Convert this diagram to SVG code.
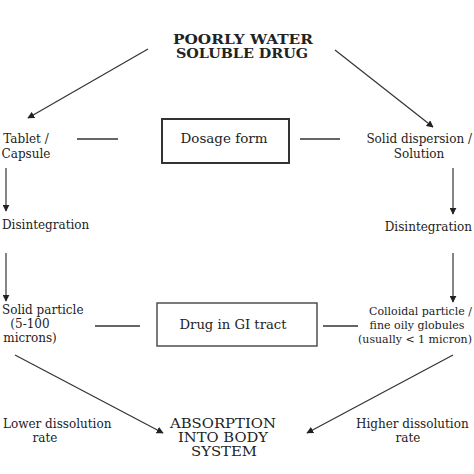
<svg xmlns="http://www.w3.org/2000/svg" width="474" height="474" viewBox="0 0 474 474">
<defs>
<marker id="ah" viewBox="0 0 10 10" refX="9" refY="5" markerWidth="7" markerHeight="7" markerUnits="userSpaceOnUse" orient="auto">
<path d="M0,0 L10,5 L0,10 z" fill="#222"/>
</marker>
<style>
text{font-family:"DejaVu Serif","Liberation Serif",serif;font-size:12px;fill:#222}
.t{font-weight:bold;font-size:13px}
.s{font-size:11px}
.m{text-anchor:middle}
.e{text-anchor:end}
.ln{stroke:#333;stroke-width:1.3;fill:none}
.ar{stroke:#333;stroke-width:1.2;fill:none;marker-end:url(#ah)}
.bx{fill:#fff;stroke:#333;stroke-width:2}
</style>
</defs>
<rect width="474" height="474" fill="#fff"/>
<g id="drug"><text class="t m" x="243" y="44" textLength="140" lengthAdjust="spacingAndGlyphs">POORLY WATER</text><text class="t m" x="242" y="58" textLength="132" lengthAdjust="spacingAndGlyphs">SOLUBLE DRUG</text></g>
<g id="tablet"><text class="m" x="26" y="143">Tablet /</text><text class="m" x="26" y="158">Capsule</text></g>
<g id="dosage"><rect class="bx" x="162" y="119" width="127" height="44"/><text class="m" x="224" y="143" textLength="87" lengthAdjust="spacingAndGlyphs">Dosage form</text></g>
<g id="soliddisp"><text class="e" x="472" y="143">Solid dispersion /</text><text class="m" x="419" y="158">Solution</text></g>
<g id="disintL"><text x="2" y="229">Disintegration</text></g>
<g id="disintR"><text class="e" x="472" y="231">Disintegration</text></g>
<g id="solidpart"><text x="2" y="314">Solid particle</text><text class="m" x="30" y="328">(5-100</text><text class="m" x="30" y="342">microns)</text></g>
<g id="gi"><rect x="157" y="303" width="160" height="43" fill="#fff" stroke="#444" stroke-width="1.4"/><text class="m" x="233" y="329" textLength="107" lengthAdjust="spacingAndGlyphs">Drug in GI tract</text></g>
<g id="colloid"><text class="s e" x="472" y="315">Colloidal particle /</text><text class="s m" x="417" y="329">fine oily globules</text><text class="s e" x="472" y="343">(usually &lt; 1 micron)</text></g>
<g id="lower"><text x="3" y="428">Lower dissolution</text><text class="m" x="45" y="442">rate</text></g>
<g id="absorb"><text class="m" x="223" y="428" textLength="106" lengthAdjust="spacingAndGlyphs">ABSORPTION</text><text class="m" x="223" y="442" textLength="90" lengthAdjust="spacingAndGlyphs">INTO BODY</text><text class="m" x="224" y="456" textLength="66" lengthAdjust="spacingAndGlyphs">SYSTEM</text></g>
<g id="higher"><text x="356" y="428">Higher dissolution</text><text class="m" x="408" y="442">rate</text></g>
<g id="connectors">
<line class="ar" x1="148" y1="49" x2="28" y2="118"/>
<line class="ar" x1="335" y1="50" x2="433" y2="127"/>
<line class="ln" x1="77" y1="139" x2="118" y2="139"/>
<line class="ln" x1="300" y1="139" x2="340" y2="139"/>
<line class="ar" x1="6" y1="168" x2="6" y2="211"/>
<line class="ar" x1="453" y1="168" x2="453" y2="214"/>
<line class="ar" x1="6" y1="253" x2="6" y2="301"/>
<line class="ar" x1="453" y1="253" x2="453" y2="302"/>
<line class="ln" x1="95" y1="326" x2="140" y2="326"/>
<line class="ln" x1="323" y1="326" x2="358" y2="326"/>
<line class="ar" x1="15" y1="355" x2="163" y2="433"/>
<line class="ar" x1="453" y1="355" x2="307" y2="433"/>
</g>
</svg>
